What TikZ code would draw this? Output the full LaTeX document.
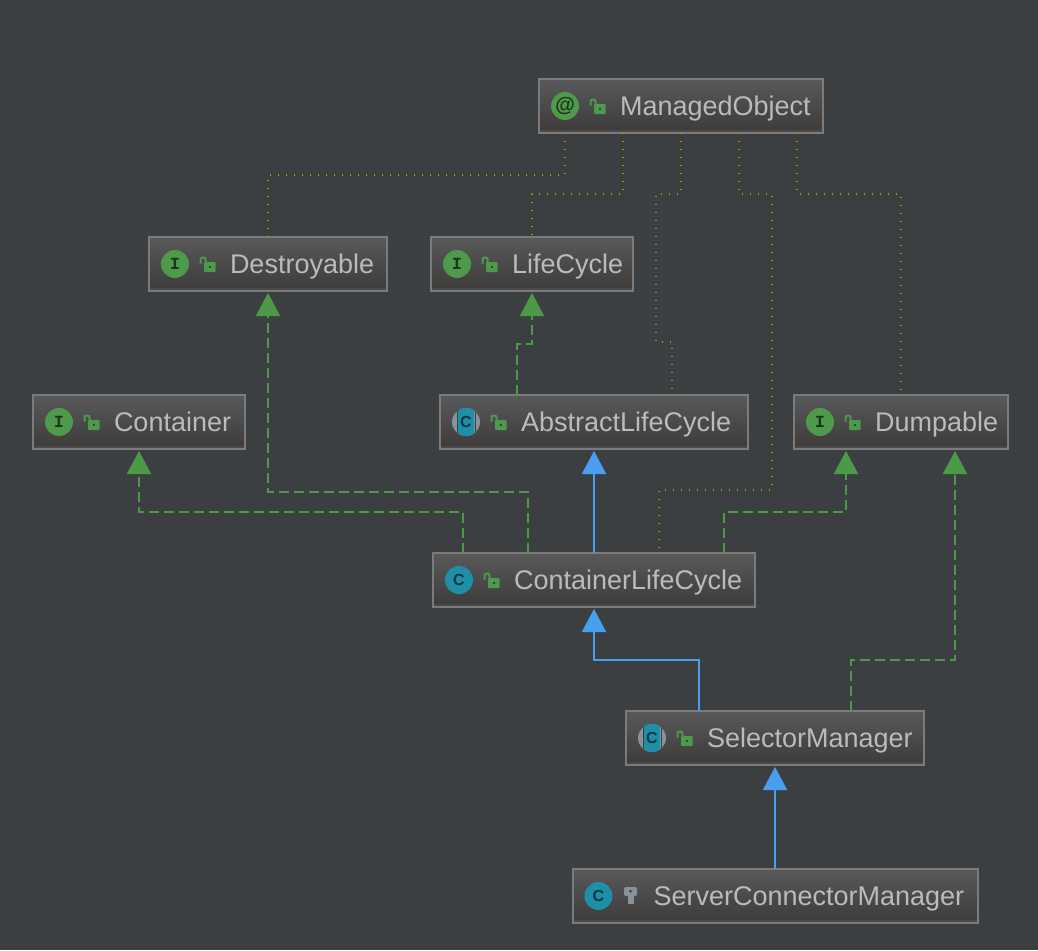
\documentclass[tikz,border=0pt]{standalone}
\usepackage{fontspec}
\setmainfont{Liberation Sans}
\newfontfamily\serifbar{Liberation Mono}
\usetikzlibrary{positioning,arrows.meta}

\definecolor{canvas}{HTML}{3C3F41}
\definecolor{boxline}{HTML}{7B7B7B}
\definecolor{boxtop}{HTML}{595959}
\definecolor{boxbottom}{HTML}{3D3B3A}
\definecolor{boxstrip}{HTML}{4C4A49}
\definecolor{labeltext}{HTML}{BBBBBB}
\definecolor{greenicon}{HTML}{4F994C}
\definecolor{tealicon}{HTML}{1F8EA8}
\definecolor{grayicon}{HTML}{87939A}
\definecolor{depline}{HTML}{4C9A48}
\definecolor{extline}{HTML}{4A9EF0}
\definecolor{dotline}{HTML}{A0A000}

\tikzset{
	umlbox/.style={draw=boxline, line width=2pt, top color=boxtop, bottom color=boxbottom,
		rectangle, inner sep=0pt, outer sep=0pt, minimum height=54pt,
		path picture={
			\fill[boxstrip] ([yshift=3pt]path picture bounding box.south west) rectangle
				(path picture bounding box.south east);
		}},
	umltext/.style={inner sep=0pt, outer sep=0pt, text=labeltext, font=\fontsize{27}{27}\selectfont,
		text height=22pt, text depth=4pt},
	icon/.style={circle, inner sep=0pt, outer sep=0pt, minimum size=28pt,
		font=\fontsize{16}{16}\selectfont\bfseries},
	iface/.style={icon, fill=greenicon, text=black!65!greenicon},
	ifacei/.style={iface, font=\fontsize{17}{17}\selectfont\serifbar\bfseries},
	anno/.style={iface, font=\fontsize{20}{20}\selectfont\bfseries},
	klass/.style={icon, fill=tealicon, text=black!60!tealicon},
	abstractklass/.style={icon, fill=grayicon, text=black!60!tealicon,
		path picture={
			\fill[tealicon] ([xshift=-8pt]path picture bounding box.south) rectangle
				([xshift=8pt]path picture bounding box.north);
			\draw[canvas, line width=.8pt] ([xshift=-9pt]path picture bounding box.south) --
				([xshift=-9pt]path picture bounding box.north);
			\draw[canvas, line width=.8pt] ([xshift=9pt]path picture bounding box.south) --
				([xshift=9pt]path picture bounding box.north);
		}},
	lockicon/.style={rectangle, inner sep=0pt, outer sep=0pt, minimum size=20pt,
		path picture={
			\begin{scope}[shift={(path picture bounding box.center)}]
				\fill[greenicon, rounded corners=1pt] (-3,-2) rectangle (8.5,8);
				\draw[greenicon, line width=2pt, rounded corners=2pt] (-6.5,-.5) -- (-6.5,-6.5) -- (-1.5,-6.5) -- (-1.5,-1);
				\fill[black!50!greenicon] (1.8,2) rectangle (3.8,3.5);
			\end{scope}
		}},
	keyicon/.style={rectangle, inner sep=0pt, outer sep=0pt, minimum size=20pt,
		path picture={
			\begin{scope}[shift={(path picture bounding box.center)}]
				\fill[grayicon, rounded corners=2pt] (-6.5,-9) rectangle (6.5,0);
				\fill[grayicon] (-3,0) rectangle (3,8);
				\fill[canvas] (0,-5) circle (1.5);
			\end{scope}
		}},
	dep/.style={depline, line width=2pt, dash pattern=on 10pt off 5pt, shorten >=2pt,
		-{Triangle[length=23pt,width=24pt,fill=depline]}},
	ext/.style={extline, line width=2pt, shorten >=2pt,
		-{Triangle[length=23pt,width=24pt,fill=extline]}},
	dots/.style={dotline, line width=1.2pt, dash pattern=on 1.2pt off 6.8pt},
}

\begin{document}
\begin{tikzpicture}[x=1pt, y=-1pt]
	\useasboundingbox (0,0) rectangle (1038,950);
	\fill[canvas] (0,0) rectangle (1038,950);

	% class boxes
	\node[umlbox, minimum width=284pt] (managed) at (681,106) {};
	\node[umlbox, minimum width=238pt] (destroyable) at (268,264) {};
	\node[umlbox, minimum width=202pt] (lifecycle) at (532,264) {};
	\node[umlbox, minimum width=212pt] (container) at (139,422) {};
	\node[umlbox, minimum width=308pt] (abstractlc) at (594,422) {};
	\node[umlbox, minimum width=214pt] (dumpable) at (901,422) {};
	\node[umlbox, minimum width=322pt] (containerlc) at (594,580) {};
	\node[umlbox, minimum width=298pt] (selector) at (775,738) {};
	\node[umlbox, minimum width=405pt] (server) at (775,896) {};

	% icons and names
	\node[anno, right=12pt of managed.west] (managedkind) {@};
	\node[lockicon, right=48pt of managed.west] (managedlock) {};
	\node[umltext, right=81pt of managed.west] (managedname) {ManagedObject};

	\node[ifacei, right=12pt of destroyable.west] (destroyablekind) {I};
	\node[lockicon, right=48pt of destroyable.west] (destroyablelock) {};
	\node[umltext, right=81pt of destroyable.west] (destroyablename) {Destroyable};

	\node[ifacei, right=12pt of lifecycle.west] (lifecyclekind) {I};
	\node[lockicon, right=48pt of lifecycle.west] (lifecyclelock) {};
	\node[umltext, right=81pt of lifecycle.west] (lifecyclename) {LifeCycle};

	\node[ifacei, right=12pt of container.west] (containerkind) {I};
	\node[lockicon, right=48pt of container.west] (containerlock) {};
	\node[umltext, right=81pt of container.west] (containername) {Container};

	\node[abstractklass, right=12pt of abstractlc.west] (abstractlckind) {C};
	\node[lockicon, right=48pt of abstractlc.west] (abstractlclock) {};
	\node[umltext, right=81pt of abstractlc.west] (abstractlcname) {AbstractLifeCycle};

	\node[ifacei, right=12pt of dumpable.west] (dumpablekind) {I};
	\node[lockicon, right=48pt of dumpable.west] (dumpablelock) {};
	\node[umltext, right=81pt of dumpable.west] (dumpablename) {Dumpable};

	\node[klass, right=12pt of containerlc.west] (containerlckind) {C};
	\node[lockicon, right=48pt of containerlc.west] (containerlclock) {};
	\node[umltext, right=81pt of containerlc.west] (containerlcname) {ContainerLifeCycle};

	\node[abstractklass, right=12pt of selector.west] (selectorkind) {C};
	\node[lockicon, right=48pt of selector.west] (selectorlock) {};
	\node[umltext, right=81pt of selector.west] (selectorname) {SelectorManager};

	\node[klass, right=12pt of server.west] (serverkind) {C};
	\node[keyicon, right=48pt of server.west] (serverkey) {};
	\node[umltext, right=81pt of server.west] (servername) {ServerConnectorManager};

	% annotation links
	\draw[dots] ([xshift=-116pt]managed.south) -- ++(0,42) -| (destroyable.north);
	\draw[dots] ([xshift=-58pt]managed.south) -- ++(0,61) -| (lifecycle.north);
	\draw[dots] (managed.south) -- ++(0,61) -- ++(-25,0) -- ++(0,148) -| ([xshift=78pt]abstractlc.north);
	\draw[dots] ([xshift=58pt]managed.south) -- ++(0,61) -- ++(33,0) -- ++(0,296) -| ([xshift=65pt]containerlc.north);
	\draw[dots] ([xshift=116pt]managed.south) -- ++(0,61) -| (dumpable.north);

	% implements
	\draw[dep] ([xshift=-77pt]abstractlc.north) -- ++(0,-51) -| (lifecycle.south);
	\draw[dep] ([xshift=-131pt]containerlc.north) -- ++(0,-41) -| (container.south);
	\draw[dep] ([xshift=-66pt]containerlc.north) -- ++(0,-61) -| (destroyable.south);
	\draw[dep] ([xshift=130pt]containerlc.north) -- ++(0,-41) -| ([xshift=-55pt]dumpable.south);
	\draw[dep] ([xshift=76pt]selector.north) -- ++(0,-51) -| ([xshift=54pt]dumpable.south);

	% extends
	\draw[ext] (containerlc.north) -- (abstractlc.south);
	\draw[ext] ([xshift=-76pt]selector.north) -- ++(0,-51) -| (containerlc.south);
	\draw[ext] (server.north) -- (selector.south);
\end{tikzpicture}
\end{document}
